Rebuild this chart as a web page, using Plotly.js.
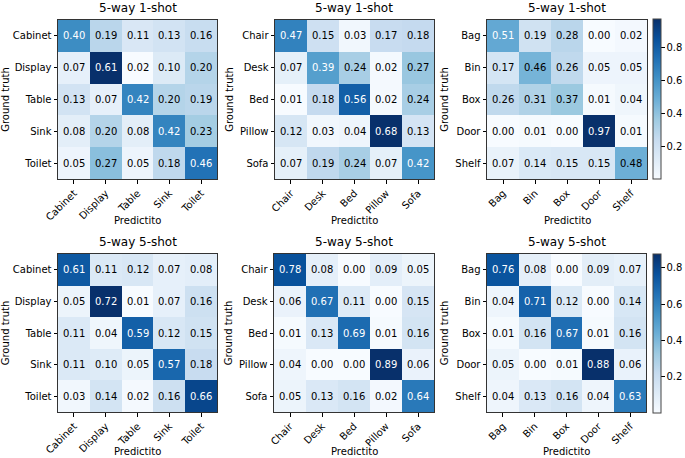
<!DOCTYPE html>
<html>
<head>
<meta charset="utf-8">
<script src="https://cdn.plot.ly/plotly-3.0.1.min.js"></script>
<style>html,body{margin:0;padding:0;background:#fff;}#chart{width:685px;height:458px;}</style>
</head>
<body>
<div id="chart"></div>
<script>
// ---- data ----
var classesA = ['Cabinet', 'Display', 'Table', 'Sink', 'Toilet'];
var classesB = ['Chair', 'Desk', 'Bed', 'Pillow', 'Sofa'];
var classesC = ['Bag', 'Bin', 'Box', 'Door', 'Shelf'];

var titles = ['5-way 1-shot', '5-way 1-shot', '5-way 1-shot', '5-way 5-shot', '5-way 5-shot', '5-way 5-shot'];
var xAxisLabel = 'Predictito';
var yAxisLabel = 'Ground truth';
var colorbarTicks = [0.2, 0.4, 0.6, 0.8];

var cmA1 = [
  [0.40, 0.19, 0.11, 0.13, 0.16],
  [0.07, 0.61, 0.02, 0.10, 0.20],
  [0.13, 0.07, 0.42, 0.20, 0.19],
  [0.08, 0.20, 0.08, 0.42, 0.23],
  [0.05, 0.27, 0.05, 0.18, 0.46]
];
var cmB1 = [
  [0.47, 0.15, 0.03, 0.17, 0.18],
  [0.07, 0.39, 0.24, 0.02, 0.27],
  [0.01, 0.18, 0.56, 0.02, 0.24],
  [0.12, 0.03, 0.04, 0.68, 0.13],
  [0.07, 0.19, 0.24, 0.07, 0.42]
];
var cmC1 = [
  [0.51, 0.19, 0.28, 0.00, 0.02],
  [0.17, 0.46, 0.26, 0.05, 0.05],
  [0.26, 0.31, 0.37, 0.01, 0.04],
  [0.00, 0.01, 0.00, 0.97, 0.01],
  [0.07, 0.14, 0.15, 0.15, 0.48]
];
var cmA5 = [
  [0.61, 0.11, 0.12, 0.07, 0.08],
  [0.05, 0.72, 0.01, 0.07, 0.16],
  [0.11, 0.04, 0.59, 0.12, 0.15],
  [0.11, 0.10, 0.05, 0.57, 0.18],
  [0.03, 0.14, 0.02, 0.16, 0.66]
];
var cmB5 = [
  [0.78, 0.08, 0.00, 0.09, 0.05],
  [0.06, 0.67, 0.11, 0.00, 0.15],
  [0.01, 0.13, 0.69, 0.01, 0.16],
  [0.04, 0.00, 0.00, 0.89, 0.06],
  [0.05, 0.13, 0.16, 0.02, 0.64]
];
var cmC5 = [
  [0.76, 0.08, 0.00, 0.09, 0.07],
  [0.04, 0.71, 0.12, 0.00, 0.14],
  [0.01, 0.16, 0.67, 0.01, 0.16],
  [0.05, 0.00, 0.01, 0.88, 0.06],
  [0.04, 0.13, 0.16, 0.04, 0.63]
];

// matplotlib "Blues"
var blues = [
  [0.000, '#f7fbff'], [0.125, '#deebf7'], [0.250, '#c6dbef'],
  [0.375, '#9ecae1'], [0.500, '#6baed6'], [0.625, '#4292c6'],
  [0.750, '#2171b5'], [0.875, '#08519c'], [1.000, '#08306b']
];

// ---- layout geometry (pixels) ----
var W = 685, H = 458;
var boxes = [
  {x0: 58,  x1: 217, y0: 20,  y1: 179},
  {x0: 275, x1: 434, y0: 20,  y1: 179},
  {x0: 487, x1: 647, y0: 20,  y1: 179},
  {x0: 58,  x1: 217, y0: 254, y1: 412},
  {x0: 274, x1: 434, y0: 254, y1: 412},
  {x0: 487, x1: 646, y0: 254, y1: 412}
];
var panels = [
  {cm: cmA1, cls: classesA}, {cm: cmB1, cls: classesB}, {cm: cmC1, cls: classesC},
  {cm: cmA5, cls: classesA}, {cm: cmB5, cls: classesB}, {cm: cmC5, cls: classesC}
];

var FONT = 'DejaVu Sans, Liberation Sans, sans-serif';
var data = [];
var layout = {
  width: W, height: H,
  margin: {l: 0, r: 0, t: 0, b: 0},
  paper_bgcolor: '#ffffff', plot_bgcolor: '#ffffff',
  font: {family: FONT, size: 10, color: '#000'},
  showlegend: false,
  annotations: []
};

function flat(m) { return [].concat.apply([], m); }

panels.forEach(function (p, i) {
  var n = i + 1;
  var xa = 'xaxis' + (n === 1 ? '' : n), ya = 'yaxis' + (n === 1 ? '' : n);
  var xr = 'x' + (n === 1 ? '' : n), yr = 'y' + (n === 1 ? '' : n);
  var b = boxes[i];
  var vals = flat(p.cm);
  var zmin = Math.min.apply(null, vals), zmax = Math.max.apply(null, vals);
  var showCb = (i === 2 || i === 5);
  var trace = {
    type: 'heatmap', z: p.cm, x: p.cls, y: p.cls,
    xaxis: xr, yaxis: yr,
    colorscale: blues, zmin: zmin, zmax: zmax,
    showscale: showCb, hoverinfo: 'skip'
  };
  if (showCb) {
    trace.colorbar = {
      x: 653 / W, xanchor: 'left', xpad: 0, ypad: 0,
      y: 1 - ((b.y0 + b.y1) / 2) / H, yanchor: 'middle',
      len: (b.y1 - b.y0 + 1), lenmode: 'pixels',
      thickness: 8, thicknessmode: 'pixels',
      outlinewidth: 1, outlinecolor: '#444',
      tickvals: colorbarTicks, ticktext: colorbarTicks.map(function (v) { return v.toFixed(1); }),
      ticks: 'outside', ticklen: 3.5, tickwidth: 1, tickcolor: '#000',
      tickfont: {family: FONT, size: 10, color: '#000'}
    };
  }
  data.push(trace);

  layout[xa] = {
    domain: [b.x0 / W, b.x1 / W], anchor: yr,
    type: 'category', tickangle: -45,
    ticks: 'outside', ticklen: 3.5, tickwidth: 1, tickcolor: '#000',
    showline: true, mirror: true, linecolor: '#333', linewidth: 1,
    showgrid: false, zeroline: false, automargin: false,
    tickfont: {family: FONT, size: 10, color: '#000'},
    fixedrange: true
  };
  layout[ya] = {
    domain: [1 - b.y1 / H, 1 - b.y0 / H], anchor: xr,
    type: 'category', autorange: 'reversed',
    ticks: 'outside', ticklen: 3.5, tickwidth: 1, tickcolor: '#000',
    showline: true, mirror: true, linecolor: '#333', linewidth: 1,
    showgrid: false, zeroline: false, automargin: false,
    tickfont: {family: FONT, size: 10, color: '#000'},
    title: {text: yAxisLabel, font: {family: FONT, size: 10, color: '#000'}, standoff: 4},
    fixedrange: true
  };

  // subplot title
  layout.annotations.push({
    text: titles[i], xref: 'paper', yref: 'paper',
    x: ((b.x0 + b.x1) / 2) / W, y: 1 - (b.y0 - 3) / H,
    xanchor: 'center', yanchor: 'bottom', showarrow: false,
    font: {family: FONT, size: 12, color: '#000'}
  });
  // x-axis label (placed below the rotated tick labels)
  var bottomRow = i >= 3;
  layout.annotations.push({
    text: xAxisLabel, xref: 'paper', yref: 'paper',
    x: ((b.x0 + b.x1) / 2) / W,
    y: bottomRow ? 0 : 1 - (b.y1 + 42) / H,
    xanchor: 'center', yanchor: bottomRow ? 'bottom' : 'middle', showarrow: false,
    borderpad: 0,
    font: {family: FONT, size: 10, color: '#000'}
  });

  // cell values
  var thresh = zmax / 2;
  for (var r = 0; r < p.cls.length; r++) {
    for (var c = 0; c < p.cls.length; c++) {
      var v = p.cm[r][c];
      layout.annotations.push({
        text: v.toFixed(2), xref: xr, yref: yr, x: p.cls[c], y: p.cls[r],
        showarrow: false,
        font: {family: FONT, size: 10, color: v > thresh ? '#ffffff' : '#000000'}
      });
    }
  }
});

Plotly.newPlot('chart', data, layout, {displayModeBar: false, staticPlot: true});
</script>
</body>
</html>
